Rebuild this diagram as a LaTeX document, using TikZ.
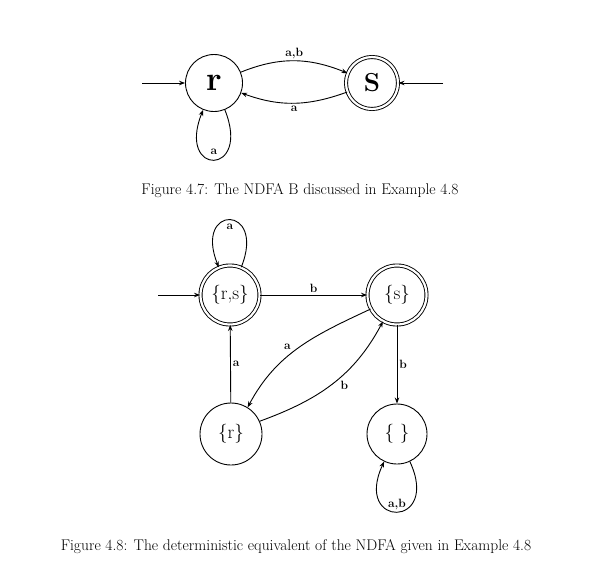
\documentclass[tikz,border=0pt]{standalone}
\usepackage{tikz}
\usetikzlibrary{arrows.meta}
\tikzset{nodestate/.style={circle,draw=black,line width=0.9pt,inner sep=0pt,minimum size=62pt,font=\fontsize{19}{22}\selectfont}}
\tikzset{nodefinal/.style={nodestate,double,double distance=2.2pt,minimum size=59pt}}
\tikzset{edgelabel/.style={font=\bfseries\fontsize{12}{14}\selectfont,inner sep=2pt}}
\tikzset{every loop/.style={}}

\begin{document}
\begin{tikzpicture}[x=1pt,y=1pt,>={Stealth[length=6pt,width=4.5pt]},line width=0.9pt]
\useasboundingbox (0,0) rectangle (591,-571);

% Figure 4.7: states r and S with their start arrows
\node[nodestate, minimum size=57pt, font=\bfseries\fontsize{34}{36}\selectfont] at (214,-83) (r) {r};
\node[nodefinal, minimum size=52pt, font=\bfseries\fontsize{26}{28}\selectfont] at (372,-83) (s) {S};
\coordinate (rin) at (142,-83);
\coordinate (sin) at (443,-83);
\draw[->] (rin) -- (r);
\draw[->] (sin) -- (s);

% Arcs between r and S
\draw[->] (r) to[out=22, in=158] node[edgelabel, above] {a,b} (s);
\draw[->] (s) to[out=200, in=-20] node[edgelabel, below] {a} (r);

% Loop below r
\path[->] (r) edge[out=-68, in=-112, loop, min distance=72pt] node[edgelabel, above, yshift=3pt] {a} (r);

\node[font=\fontsize{15.5}{18}\selectfont] at (300,-191) (cap1) {Figure 4.7: The NDFA B discussed in Example 4.8};

% Figure 4.8: the four subset states
\node[nodefinal] at (230,-295) (rs) {\{r,s\}};
\node[nodefinal] at (397,-295) (s2) {\{s\}};
\node[nodestate] at (231,-434) (r1) {\{r\}};
\node[nodestate, minimum size=60pt] at (397,-434) (e) {\{ \}};
\coordinate (rsin) at (158,-295);
\draw[->] (rsin) -- (rs);

% Straight transitions
\draw[->] (rs) -- node[edgelabel, above] {b} (s2);
\draw[->] (r1) -- node[edgelabel, right] {a} (rs);
\draw[->] (s2) -- node[edgelabel, right] {b} (e);

% Curved transitions between {s} and {r}
\draw[->] (s2.208) to[out=205, in=62] node[edgelabel, above left, pos=0.55] {a} (r1.58);
\draw[->] (r1.24) to[out=20, in=242] node[edgelabel, below right, pos=0.55] {b} (s2.242);

% Loops on {r,s} and { }
\path[->] (rs) edge[out=68, in=112, loop, min distance=68pt] node[edgelabel, below, yshift=-2pt] {a} (rs);
\path[->] (e) edge[out=-65, in=-115, loop, min distance=74pt] node[edgelabel, above] {a,b} (e);

\node[font=\fontsize{15.5}{18}\selectfont] at (296,-547) (cap2) {Figure 4.8: The deterministic equivalent of the NDFA given in Example 4.8};
\end{tikzpicture}
\end{document}
